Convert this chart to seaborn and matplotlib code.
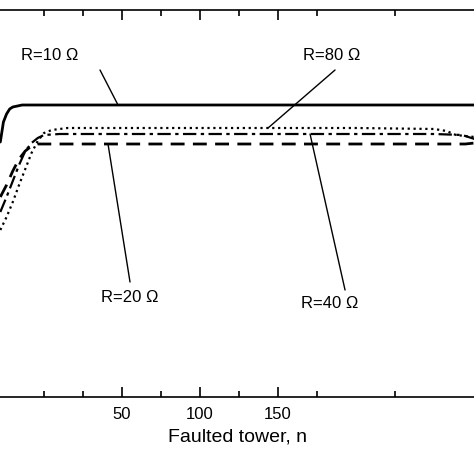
import matplotlib
matplotlib.use("Agg")
import matplotlib.pyplot as plt
import seaborn as sns

sns.set_theme(style="white")
plt.rcParams['font.family'] = ['Liberation Sans', 'DejaVu Sans']

n_r10 = [-28, -26, -24, -22, -20, -17, -14, -10, 0, 50, 100, 150, 200, 250, 276]
v_r10 = [255, 275, 283, 288, 290, 291, 292, 292, 292, 292, 292, 292, 292, 292, 292]
n_r20 = [-28, -24, -20, -16, -12, -8, -4, 0, 10, 50, 100, 150, 200, 250, 270, 276]
v_r20 = [200, 212, 226, 238, 246, 251, 253, 253, 253, 253, 253, 253, 253, 253, 253, 254]
n_r40 = [-28, -24, -20, -16, -12, -8, -4, 0, 10, 50, 100, 150, 200, 250, 268, 276]
v_r40 = [185, 200, 216, 232, 246, 254, 259, 262, 263, 263, 263, 263, 263, 263, 262, 258]
n_r80 = [-28, -24, -20, -16, -12, -8, -4, 0, 5, 15, 50, 100, 150, 200, 250, 258, 264, 276]
v_r80 = [167, 180, 195, 212, 228, 244, 256, 264, 267, 269, 269, 269, 269, 269, 268, 266, 262, 260]

fig = plt.figure(figsize=(4.74, 4.74), dpi=100)
ax = fig.add_axes([0, 77/474, 1, 387/474])
for n, v, ls, lw in [(n_r10, v_r10, '-', 2.0), (n_r20, v_r20, (0, (5, 3)), 2.0),
                     (n_r40, v_r40, (0, (6, 2, 1.5, 2)), 1.6), (n_r80, v_r80, ':', 1.6)]:
    sns.lineplot(x=n, y=v, ax=ax, color='black', linestyle=ls, linewidth=lw)

ax.set_xlim(-28.2, 275.6)
ax.set_ylim(0, 387)
ax.set_xticks([50, 100, 150])
ax.set_xticks([0, 25, 75, 125, 175, 225], minor=True)
ax.set_yticks([])
ax.tick_params(axis='x', which='major', direction='in', length=7, width=1.2, top=True, bottom=True,
               labelsize=12, pad=7, colors='black')
ax.tick_params(axis='x', which='minor', direction='in', length=4, width=1.2, top=True, bottom=True, colors='black')
for s in ['left', 'right']:
    ax.spines[s].set_visible(False)
for s in ['top', 'bottom']:
    ax.spines[s].set_color('black')
    ax.spines[s].set_linewidth(1.2)
ax.set_xlabel('Faulted tower, n', fontsize=14, labelpad=5, color='black')

def pxn(px):
    return (px - 44) / 1.56

def pxv(py):
    return 397 - py

labels = [("R=10 Ω", 50, 55, 100, 70, 118, 105),
          ("R=80 Ω", 332, 55, 335, 70, 268, 128),
          ("R=20 Ω", 130, 297, 130, 282, 108, 144),
          ("R=40 Ω", 330, 303, 345, 290, 310, 134)]
for t, tx, ty, x0, y0, x1, y1 in labels:
    ax.text(pxn(tx), pxv(ty), t, ha='center', va='center', fontsize=12, color='black')
    ax.plot([pxn(x0), pxn(x1)], [pxv(y0), pxv(y1)], color='black', linewidth=1)

fig.savefig('out.png', dpi=100)
